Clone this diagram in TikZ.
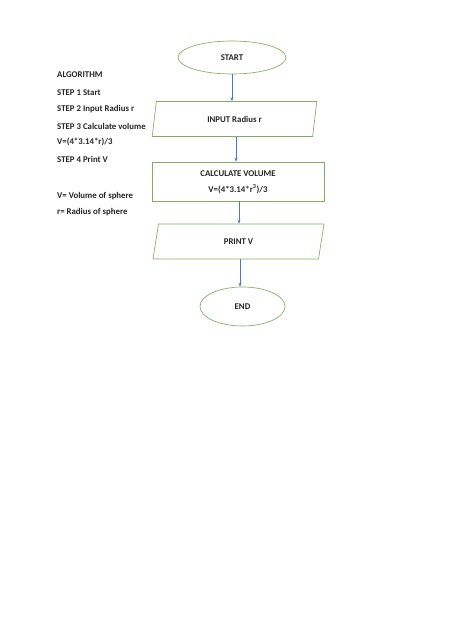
\documentclass[tikz,border=0pt]{standalone}
\usepackage{fontspec}
\setmainfont{Carlito}
\usetikzlibrary{shapes.geometric,arrows.meta}
\definecolor{boxgreen}{HTML}{7DAF5E}
\definecolor{arrblue}{HTML}{4A78C6}
\begin{document}
\begin{tikzpicture}[x=1pt,y=-1pt,
  every node/.style={font=\fontsize{8.8}{10}\selectfont\bfseries, text=black!85, inner sep=0pt},
  term/.style={draw=boxgreen, line width=0.65pt, ellipse, minimum width=#1, minimum height=33},
  io/.style={draw=boxgreen, line width=0.65pt, trapezium, trapezium stretches=true, minimum height=35},
  proc/.style={draw=boxgreen, line width=0.65pt, rectangle, minimum width=172, minimum height=39},
  arr/.style={draw=arrblue, line width=0.45pt, -{Stealth[length=4pt,width=3pt]}},
  alg/.style={anchor=west}]
\useasboundingbox (0,0) rectangle (474,632);
\fill[white] (0,0) rectangle (474,632);
% flowchart
\node[term=108] (start) at (232,57.5) {START};
\node[io, trapezium left angle=77, trapezium right angle=103, minimum width=165] (input) at (234.5,119) {INPUT Radius r};
\node[proc, align=center] (calc) at (238,181.5) {};
\node (calc1) at (238,174) {CALCULATE VOLUME};
\node (calc2) at (238,189.5) {V=(4*3.14*r\textsuperscript{3})/3};
\node[io, trapezium left angle=80, trapezium right angle=100, minimum width=171] (print) at (238.5,241.5) {PRINT V};
\node[term=85, minimum height=39] (end) at (242.5,306.5) {END};
\draw[arr] (start.south) -- (start.south |- input.north);
\draw[arr] ([xshift=1.5pt]input.south) -- ([xshift=1.5pt]input.south |- calc.north);
\draw[arr] ([xshift=1pt]calc.south) -- ([xshift=1pt]calc.south |- print.north);
\draw[arr] ([xshift=1.5pt]print.south) -- ([xshift=1.5pt]print.south |- end.north);
% algorithm text
\node[alg] (a1) at (57,75) {ALGORITHM};
\node[alg] (a2) at (57,93) {STEP 1 Start};
\node[alg] (a3) at (57,109) {STEP 2 Input Radius r};
\node[alg] (a4) at (57,126) {STEP 3 Calculate volume};
\node[alg] (a5) at (57,142) {V=(4*3.14*r)/3};
\node[alg] (a6) at (57,159) {STEP 4 Print V};
\node[alg] (a7) at (57,196) {V= Volume of sphere};
\node[alg] (a8) at (57,212) {r= Radius of sphere};
\end{tikzpicture}
\end{document}
